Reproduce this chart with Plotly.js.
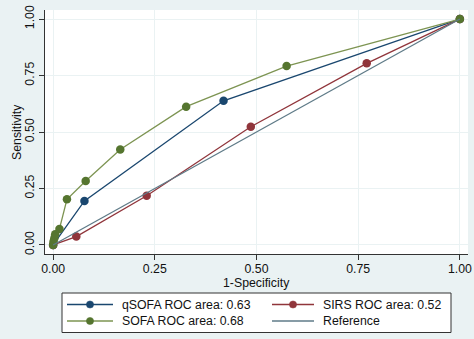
<!DOCTYPE html>
<html>
<head>
<meta charset="utf-8">
<script src="https://cdn.plot.ly/plotly-3.0.1.min.js"></script>
<style>html,body{margin:0;padding:0;background:#eaf2f3;}#chart{width:474px;height:339px;}</style>
</head>
<body>
<div id="chart"></div>
<script>
// 1-Specificity (x) and Sensitivity (y) for each ROC curve
const qsofaX = [0, 0.077, 0.419, 1];
const qsofaY = [0, 0.195, 0.638, 1];
const sirsX = [0, 0.057, 0.230, 0.486, 0.771, 1];
const sirsY = [0, 0.037, 0.218, 0.523, 0.804, 1];
const sofaX = [0, 0.001, 0.003, 0.005, 0.0155, 0.034, 0.080, 0.165, 0.327, 0.574, 1];
const sofaY = [0, 0.015, 0.030, 0.047, 0.071, 0.202, 0.283, 0.423, 0.612, 0.792, 1];
const refX = [0, 1];
const refY = [0, 1];
const tickVals = [0, 0.25, 0.5, 0.75, 1];
const tickText = ['0.00', '0.25', '0.50', '0.75', '1.00'];
const names = ['qSOFA ROC area: 0.63', 'SIRS ROC area: 0.52', 'SOFA ROC area: 0.68', 'Reference'];
const xTitle = '1-Specificity', yTitle = 'Sensitivity';

const navy = '#1a476f', maroon = '#90353b', green = '#55752f', refc = '#5f7b88';
const lineCols = [navy, maroon, '#7d9452', refc];
const markCols = [navy, maroon, green, null];

const traces = [
  {x: qsofaX, y: qsofaY, name: names[0], mode: 'lines+markers',
   line: {color: lineCols[0], width: 1.3}, marker: {color: markCols[0], size: 8.5}},
  {x: sirsX, y: sirsY, name: names[1], mode: 'lines+markers',
   line: {color: lineCols[1], width: 1.3}, marker: {color: markCols[1], size: 8.5}},
  {x: sofaX, y: sofaY, name: names[2], mode: 'lines+markers',
   line: {color: lineCols[2], width: 1.3}, marker: {color: markCols[2], size: 8.5}},
  {x: refX, y: refY, name: names[3], mode: 'lines',
   line: {color: lineCols[3], width: 1.3}}
];

// layout geometry (pixels)
const W = 474, H = 339, ML = 45, MR = 6, MT = 10, MB = 85;
const PW = W - ML - MR, PH = H - MT - MB;
const px = v => (v - ML) / PW;            // pixel x -> paper x
const py = v => (H - MB - v) / PH;        // pixel y -> paper y

// manual legend (2 columns, Stata style)
const shapes = [{
  type: 'rect', xref: 'paper', yref: 'paper',
  x0: px(62), x1: px(451), y0: py(293), y1: py(332.5),
  fillcolor: '#ffffff', line: {color: '#333', width: 1}, layer: 'above'
}];
const annotations = [
  {text: yTitle, xref: 'paper', yref: 'paper', x: px(17), y: 0.5,
   textangle: -90, showarrow: false, xanchor: 'center', yanchor: 'middle',
   font: {size: 12.3, color: '#111'}},
  {text: xTitle, xref: 'paper', yref: 'paper', x: 0.5, y: py(282.5),
   showarrow: false, xanchor: 'center', yanchor: 'middle',
   font: {size: 12.3, color: '#111'}}
];
const cols = [{l0: 67, l1: 113}, {l0: 272, l1: 314}];
const rows = [304.5, 321];
names.forEach((nm, i) => {
  const c = cols[i % 2], r = rows[Math.floor(i / 2)];
  shapes.push({type: 'line', xref: 'paper', yref: 'paper',
    x0: px(c.l0), x1: px(c.l1), y0: py(r), y1: py(r),
    line: {color: lineCols[i], width: 1.3}, layer: 'above'});
  if (markCols[i]) {
    const cx = (c.l0 + c.l1) / 2, rr = 3.6;
    shapes.push({type: 'circle', xref: 'paper', yref: 'paper',
      x0: px(cx - rr), x1: px(cx + rr), y0: py(r + rr), y1: py(r - rr),
      fillcolor: markCols[i], line: {color: markCols[i], width: 0.5}, layer: 'above'});
  }
  annotations.push({text: nm, xref: 'paper', yref: 'paper',
    x: px(c.l1 + 7), y: py(r), xanchor: 'left', yanchor: 'middle',
    showarrow: false, font: {size: 12.3, color: '#111'}});
});

const axisCommon = {
  showline: true, linecolor: '#333', linewidth: 1,
  ticks: 'outside', ticklen: 5, tickcolor: '#333',
  showgrid: true, gridcolor: '#eaf2f3', gridwidth: 1,
  zeroline: false, tickvals: tickVals, ticktext: tickText,
  tickfont: {family: 'Liberation Sans, Arial, sans-serif', size: 12.3, color: '#111'}
};

const layout = {
  width: W, height: H,
  paper_bgcolor: '#eaf2f3', plot_bgcolor: '#ffffff',
  margin: {l: ML, r: MR, t: MT, b: MB},
  font: {family: 'Liberation Sans, Arial, sans-serif', size: 12.3, color: '#111'},
  xaxis: Object.assign({}, axisCommon, {range: [-0.02, 1.02], ticklabelstandoff: -2}),
  yaxis: Object.assign({}, axisCommon, {range: [-0.04, 1.04], tickangle: -90}),
  showlegend: false,
  shapes: shapes,
  annotations: annotations
};

Plotly.newPlot('chart', traces, layout, {staticPlot: true, displayModeBar: false});
</script>
</body>
</html>
